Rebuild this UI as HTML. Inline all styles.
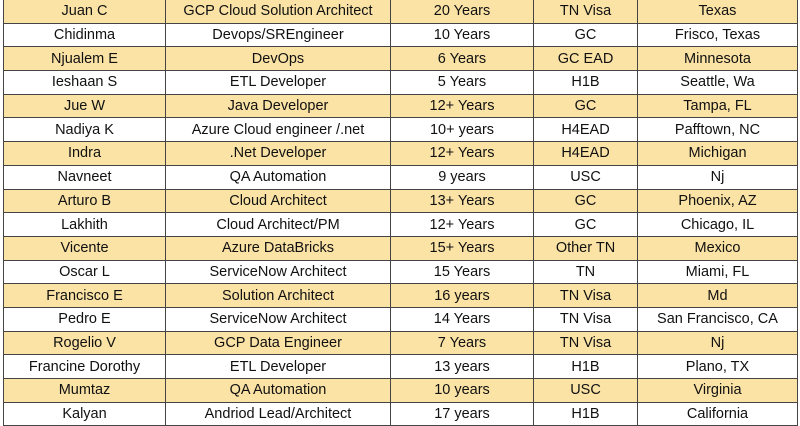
<!DOCTYPE html>
<html><head><meta charset="utf-8"><style>
body{margin:0;width:800px;height:425px;overflow:hidden;background:#fff;}
table{position:absolute;left:3px;top:-1px;border-collapse:collapse;table-layout:fixed;font-family:"Liberation Sans",sans-serif;font-size:14.5px;color:#111;}
td{height:22.7px;padding:0;border:1px solid #444;text-align:center;white-space:nowrap;overflow:hidden;}
tr.y td{background:#fbe3a6;}
</style></head><body>
<table>
<colgroup><col style="width:162px"><col style="width:225px"><col style="width:143px"><col style="width:104px"><col style="width:160px"></colgroup>
<tbody>
<tr class="y"><td>Juan C</td><td>GCP Cloud Solution Architect</td><td>20 Years</td><td>TN Visa</td><td>Texas</td></tr>
<tr><td>Chidinma</td><td>Devops/SREngineer</td><td>10 Years</td><td>GC</td><td>Frisco, Texas</td></tr>
<tr class="y"><td>Njualem E</td><td>DevOps</td><td>6 Years</td><td>GC EAD</td><td>Minnesota</td></tr>
<tr><td>Ieshaan S</td><td>ETL Developer</td><td>5 Years</td><td>H1B</td><td>Seattle, Wa</td></tr>
<tr class="y"><td>Jue W</td><td>Java Developer</td><td>12+ Years</td><td>GC</td><td>Tampa, FL</td></tr>
<tr><td>Nadiya K</td><td>Azure Cloud engineer /.net</td><td>10+ years</td><td>H4EAD</td><td>Pafftown, NC</td></tr>
<tr class="y"><td>Indra</td><td>.Net Developer</td><td>12+ Years</td><td>H4EAD</td><td>Michigan</td></tr>
<tr><td>Navneet</td><td>QA Automation</td><td>9 years</td><td>USC</td><td>Nj</td></tr>
<tr class="y"><td>Arturo B</td><td>Cloud Architect</td><td>13+ Years</td><td>GC</td><td>Phoenix, AZ</td></tr>
<tr><td>Lakhith</td><td>Cloud Architect/PM</td><td>12+ Years</td><td>GC</td><td>Chicago, IL</td></tr>
<tr class="y"><td>Vicente</td><td>Azure DataBricks</td><td>15+ Years</td><td>Other TN</td><td>Mexico</td></tr>
<tr><td>Oscar L</td><td>ServiceNow Architect</td><td>15 Years</td><td>TN</td><td>Miami, FL</td></tr>
<tr class="y"><td>Francisco E</td><td>Solution Architect</td><td>16 years</td><td>TN Visa</td><td>Md</td></tr>
<tr><td>Pedro E</td><td>ServiceNow Architect</td><td>14 Years</td><td>TN Visa</td><td>San Francisco, CA</td></tr>
<tr class="y"><td>Rogelio V</td><td>GCP Data Engineer</td><td>7 Years</td><td>TN Visa</td><td>Nj</td></tr>
<tr><td>Francine Dorothy</td><td>ETL Developer</td><td>13 years</td><td>H1B</td><td>Plano, TX</td></tr>
<tr class="y"><td>Mumtaz</td><td>QA Automation</td><td>10 years</td><td>USC</td><td>Virginia</td></tr>
<tr><td>Kalyan</td><td>Andriod Lead/Architect</td><td>17 years</td><td>H1B</td><td>California</td></tr>
</tbody></table>
</body></html>
